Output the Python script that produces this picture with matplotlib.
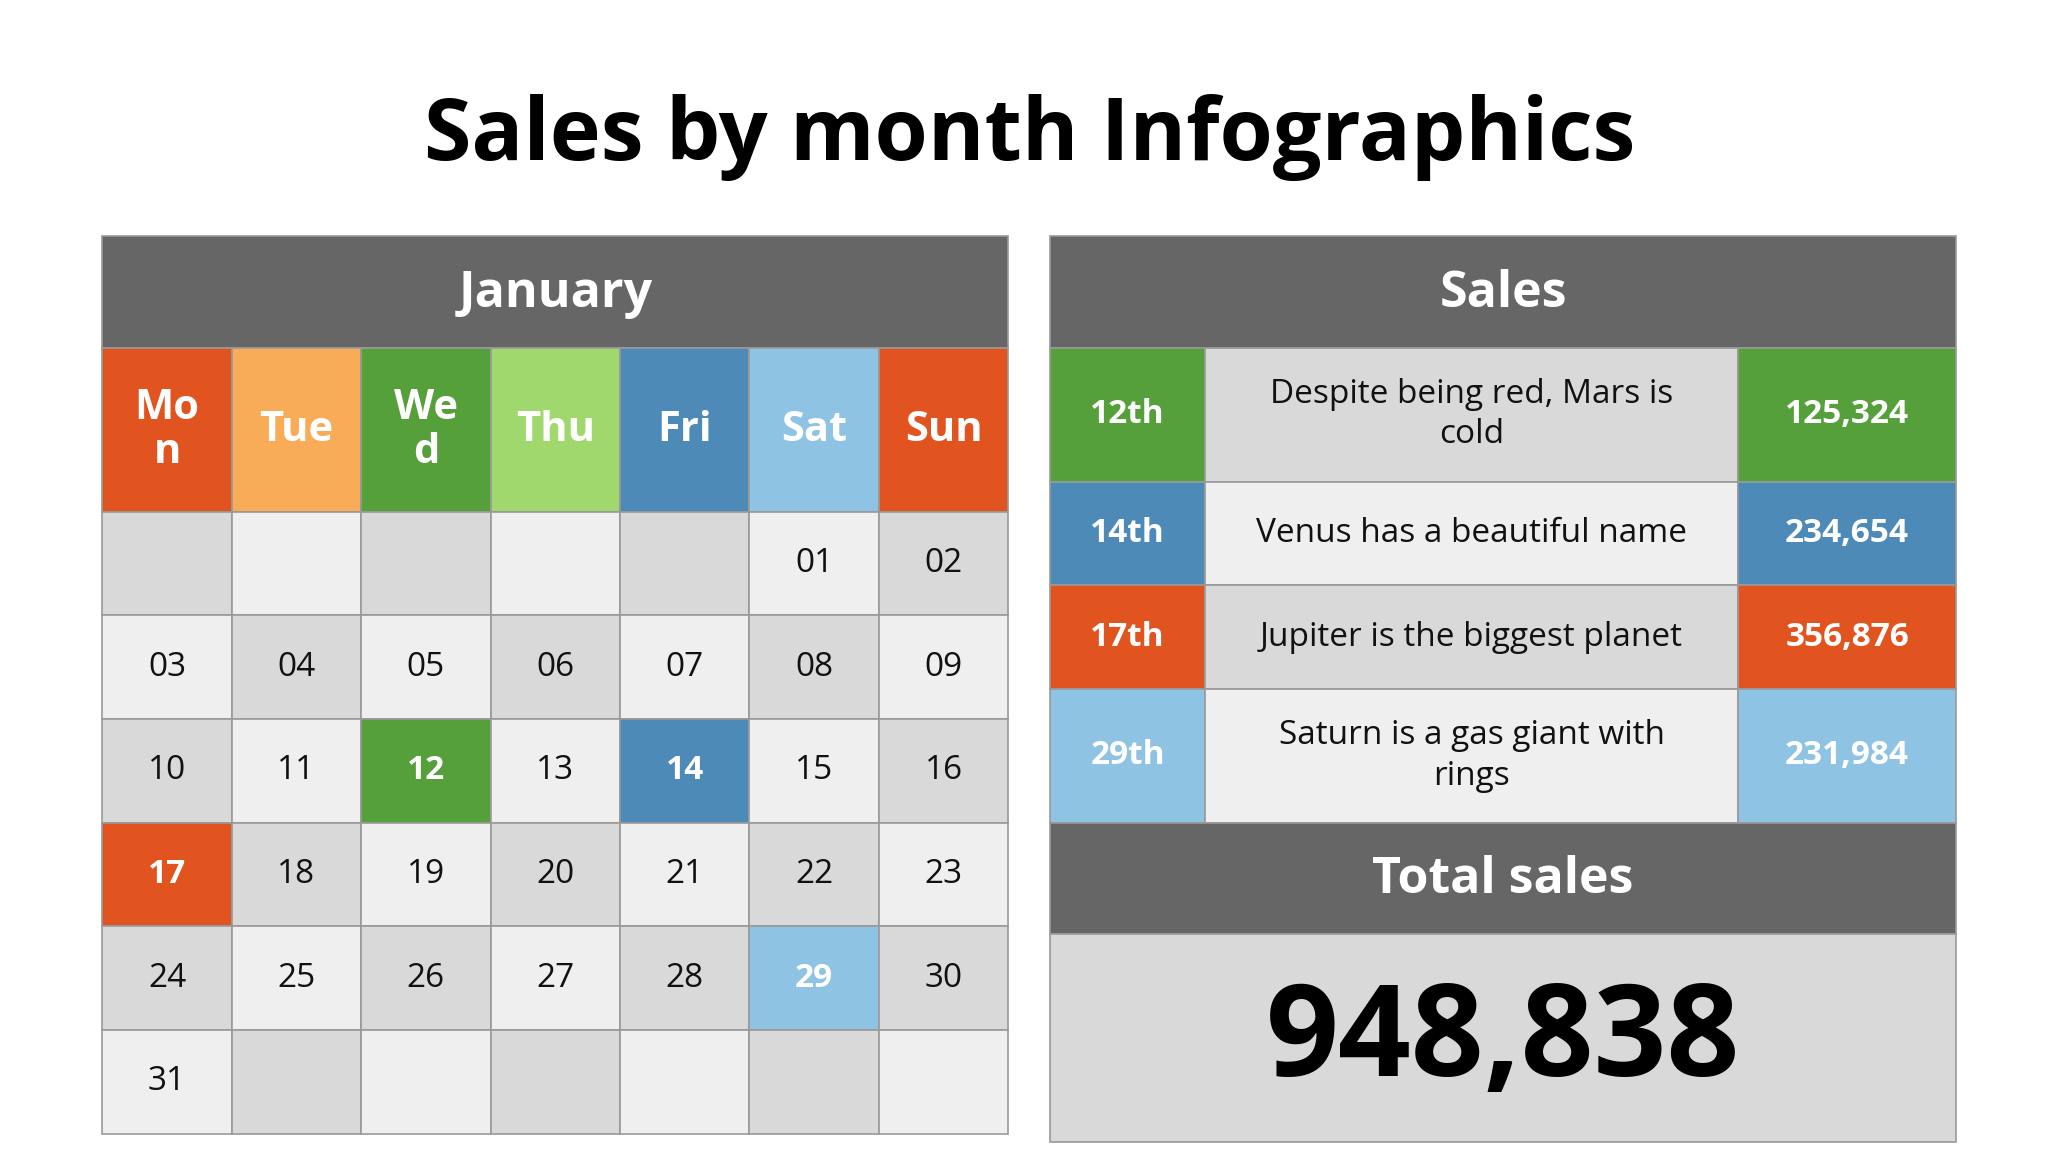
import matplotlib
matplotlib.use("Agg")
import matplotlib.pyplot as plt
from matplotlib.patches import Rectangle

title = "Sales by month Infographics"
month = "January"
day_names = ["Mo\nn", "Tue", "We\nd", "Thu", "Fri", "Sat", "Sun"]
day_colors = ["#E2541F", "#F9AC57", "#55A03A", "#A0D86E", "#4E8AB8", "#8FC3E3", "#E2541F"]
first_weekday = 5
n_days = 31
highlight_days = [12, 14, 17, 29]
highlight_colors = ["#55A03A", "#4E8AB8", "#E2541F", "#8FC3E3"]
sales_labels = ["12th", "14th", "17th", "29th"]
sales_texts = ["Despite being red, Mars is\ncold", "Venus has a beautiful name",
               "Jupiter is the biggest planet", "Saturn is a gas giant with\nrings"]
sales_values = [125324, 234654, 356876, 231984]
total = sum(sales_values)

plt.rcParams['font.family'] = ['Open Sans', 'DejaVu Sans']
fig = plt.figure(figsize=(20.48, 11.52), dpi=100)
ax = fig.add_axes([0, 0, 1, 1])
ax.set_xlim(0, 1560); ax.set_ylim(878, 0); ax.axis('off')
DARK = "#666666"; EDGE = "#999999"

def box(x0, y0, x1, y1, fc):
    ax.add_patch(Rectangle((x0, y0), x1 - x0, y1 - y0, fc=fc, ec=EDGE, lw=1.2))

ax.text(784, 105, title, ha='center', va='center', fontsize=62, fontweight='bold')

# calendar
X0, X1 = 78, 768
cw = (X1 - X0) / 7
box(X0, 180, X1, 265, DARK)
ax.text((X0 + X1) / 2, 224, month, ha='center', va='center', fontsize=36, fontweight='bold', color='white')
for i, (d, c) in enumerate(zip(day_names, day_colors)):
    box(X0 + i * cw, 265, X0 + (i + 1) * cw, 390, c)
    ax.text(X0 + (i + 0.5) * cw, 328, d, ha='center', va='center', fontsize=30, fontweight='bold',
            color='white', linespacing=1.1)
rows = [390, 469, 548, 627, 706, 785, 864]
for r in range(6):
    for c in range(7):
        idx = r * 7 + c - first_weekday + 1
        fc = "#D9D9D9" if (r + c) % 2 == 0 else "#EFEFEF"
        txt, col, fw = "", "#111111", 'normal'
        if 1 <= idx <= n_days:
            txt = f"{idx:02d}"
            if idx in highlight_days:
                fc = highlight_colors[highlight_days.index(idx)]
                col, fw = 'white', 'bold'
        box(X0 + c * cw, rows[r], X0 + (c + 1) * cw, rows[r + 1], fc)
        if txt:
            ax.text(X0 + (c + 0.5) * cw, (rows[r] + rows[r + 1]) / 2, txt, ha='center', va='center',
                    fontsize=24, color=col, fontweight=fw)

# sales table
S0, S1, S2, S3 = 800, 918, 1324, 1490
box(S0, 180, S3, 265, DARK)
ax.text((S0 + S3) / 2, 224, "Sales", ha='center', va='center', fontsize=36, fontweight='bold', color='white')
srows = [265, 367, 446, 525, 627]
for i in range(4):
    y0, y1 = srows[i], srows[i + 1]; ym = (y0 + y1) / 2
    c = highlight_colors[i]
    box(S0, y0, S1, y1, c); box(S1, y0, S2, y1, "#D9D9D9" if i % 2 == 0 else "#EFEFEF"); box(S2, y0, S3, y1, c)
    ax.text((S0 + S1) / 2, ym, sales_labels[i], ha='center', va='center', fontsize=24, fontweight='bold', color='white')
    ax.text((S1 + S2) / 2, ym, sales_texts[i], ha='center', va='center', fontsize=24, color='#111111', linespacing=1.3)
    ax.text((S2 + S3) / 2, ym, f"{sales_values[i]:,}", ha='center', va='center', fontsize=24, fontweight='bold', color='white')
box(S0, 627, S3, 712, DARK)
ax.text((S0 + S3) / 2, 671, "Total sales", ha='center', va='center', fontsize=36, fontweight='bold', color='white')
box(S0, 712, S3, 870, "#D9D9D9")
ax.text((S0 + S3) / 2, 795, f"{total:,}", ha='center', va='center', fontsize=92, fontweight='bold', color='black')

fig.savefig("out.png", dpi=100, facecolor='white')
